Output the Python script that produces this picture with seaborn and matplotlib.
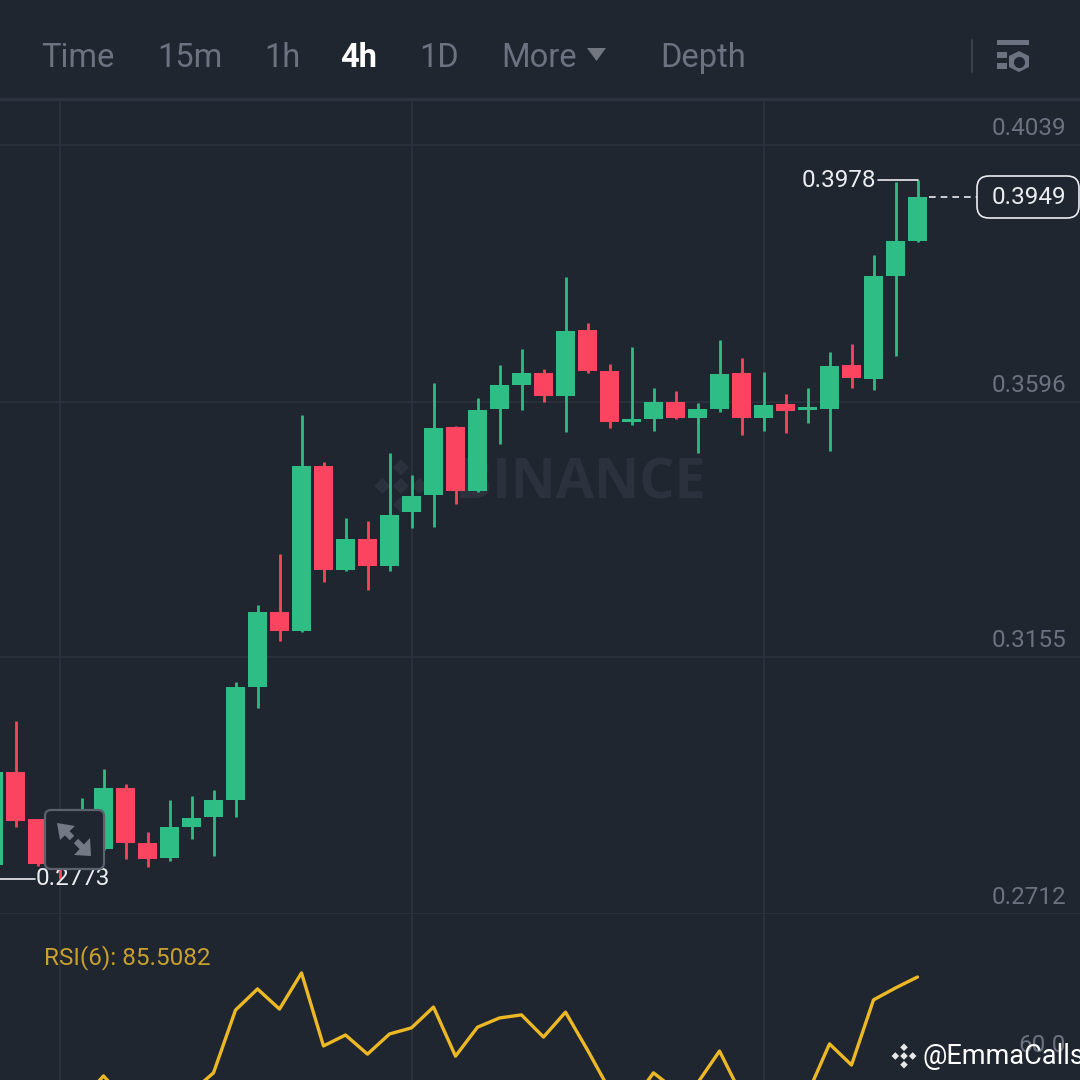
import matplotlib
matplotlib.use("Agg")
import matplotlib.pyplot as plt
from matplotlib.patches import FancyBboxPatch, Polygon, Rectangle
import numpy as np
import pandas as pd
import seaborn as sns

BG = "#1f2630"
GRID = "#2c333f"
GREEN = "#2ebd85"
RED = "#fb4560"
GOLD = "#ecb824"
MUTED = "#6b7280"
LIGHT = "#eaecef"

# candles, left to right (first one is cut by the left edge)
opens = [0.2797, 0.2957, 0.2876, 0.2866, 0.2824, 0.2824, 0.2929, 0.2835, 0.2809, 0.2862,
         0.2879, 0.2909, 0.3104, 0.3233, 0.3200, 0.3485, 0.3306, 0.3359, 0.3313, 0.3406,
         0.3435, 0.3552, 0.3442, 0.3583, 0.3625, 0.3646, 0.3606, 0.3720, 0.3649, 0.3561,
         0.3566, 0.3596, 0.3568, 0.3583, 0.3646, 0.3568, 0.3592, 0.3582, 0.3583, 0.3659,
         0.3635, 0.3813, 0.3873]
closes = [0.2957, 0.2873, 0.2798, 0.2791, 0.2866, 0.2929, 0.2835, 0.2807, 0.2862, 0.2878,
          0.2909, 0.3104, 0.3233, 0.3200, 0.3485, 0.3306, 0.3359, 0.3313, 0.3401, 0.3433,
          0.3551, 0.3442, 0.3582, 0.3625, 0.3646, 0.3606, 0.3718, 0.3649, 0.3561, 0.3566,
          0.3596, 0.3568, 0.3583, 0.3644, 0.3568, 0.3590, 0.3580, 0.3587, 0.3658, 0.3637,
          0.3813, 0.3873, 0.3949]
highs = [0.2965, 0.3045, 0.2876, 0.2883, 0.2912, 0.2962, 0.2936, 0.2854, 0.2909, 0.2916,
         0.2926, 0.3112, 0.3245, 0.3333, 0.3573, 0.3492, 0.3395, 0.3390, 0.3508, 0.3470,
         0.3628, 0.3554, 0.3602, 0.3659, 0.3687, 0.3653, 0.3811, 0.3732, 0.3661, 0.3690,
         0.3620, 0.3615, 0.3594, 0.3703, 0.3671, 0.3647, 0.3609, 0.3620, 0.3682, 0.3696,
         0.3849, 0.3975, 0.3978]
lows = [0.2790, 0.2862, 0.2795, 0.2773, 0.2814, 0.2822, 0.2807, 0.2793, 0.2803, 0.2841,
        0.2812, 0.2879, 0.3068, 0.3183, 0.3199, 0.3285, 0.3304, 0.3271, 0.3304, 0.3378,
        0.3380, 0.3420, 0.3440, 0.3523, 0.3582, 0.3596, 0.3544, 0.3646, 0.3551, 0.3556,
        0.3545, 0.3566, 0.3508, 0.3578, 0.3539, 0.3545, 0.3542, 0.3559, 0.3511, 0.3620,
        0.3616, 0.3675, 0.3871]

# RSI starts further left than the crop shows, first value is candle 4
rsi_start = 4
rsi_values = [49.4, 56.5, 49.4, 47.0, 47.0, 51.8, 57.4, 75.8, 82.0, 76.1, 86.7, 65.3, 68.5,
              62.9, 68.8, 70.6, 76.7, 62.3, 70.8, 73.5, 74.4, 67.9, 75.2, 64.1, 52.4, 48.5,
              57.4, 52.4, 54.4, 63.8, 50.9, 48.0, 49.4, 51.2, 65.9, 59.7, 78.8, 82.3, 85.5082]

price_ticks = [0.4039, 0.3596, 0.3155, 0.2712]
time_ticks = [3, 19, 35]
header_labels = ["Time", "15m", "1h", "4h", "1D", "More", "Depth"]
header_x = [41, 157, 264, 340, 419, 501, 660]

W = 1080


def frac_box(y0, y1):
    return [0, 1 - y1 / W, 1, (y1 - y0) / W]


def logo(ax, cx, cy, s, color, zorder=1):
    # four small diamonds around a hollow one, roughly the exchange logo
    for dx, dy in [(-1, 0), (1, 0), (0, -1), (0, 1), (0, 0)]:
        r = 0.27 * s
        px, py = cx + dx * 0.62 * s, cy + dy * 0.62 * s
        ax.add_patch(Polygon([(px - r, py), (px, py - r), (px + r, py), (px, py + r)],
                             closed=True, fc=color, ec="none", zorder=zorder))


sns.set_theme(style="dark")
plt.rcParams["font.family"] = ["Roboto", "DejaVu Sans"]

fig = plt.figure(figsize=(10.8, 10.8), dpi=100, facecolor=BG)

# pixel space layers, one under the candles and one over them
under = fig.add_axes([0, 0, 1, 1], zorder=0)
over = fig.add_axes([0, 0, 1, 1], zorder=5)
for a in (under, over):
    a.set_xlim(0, W)
    a.set_ylim(W, 0)
    a.axis("off")
under.set_facecolor(BG)
under.axis("on")
under.set_xticks([])
under.set_yticks([])
for s in under.spines.values():
    s.set_visible(False)

logo(under, 401, 486, 30, "#2b323d")
under.text(455, 484, "BINANCE", color="#2b323d", fontsize=40, fontweight="bold",
           family="Open Sans", va="center", ha="left")

# price panel
ax = fig.add_axes(frac_box(100, 914), zorder=2)
ax.patch.set_alpha(0)
candles = pd.DataFrame({"i": np.arange(len(opens)), "open": opens, "close": closes,
                        "high": highs, "low": lows})
candles["body_low"] = candles[["open", "close"]].min(axis=1)
candles["body"] = (candles["close"] - candles["open"]).abs()
candles["up"] = candles["close"] >= candles["open"]

for is_up, color in [(True, GREEN), (False, RED)]:
    part = candles[candles["up"] == is_up]
    ax.vlines(part["i"], part["low"], part["high"], color=color, lw=2.0, zorder=3)
    sns.barplot(data=part, x="i", y="body", native_scale=True, color=color, saturation=1,
                width=0.87, errorbar=None, bottom=part["body_low"].values, ax=ax,
                linewidth=0, zorder=4)

xlim = (6.5 / 22, 1086.5 / 22)
ax.set_xlim(*xlim)
ax.set_ylim(0.2712, 0.2712 + 814 * 0.00017256)
ax.set_xticks(time_ticks)
ax.set_yticks(price_ticks)
ax.set_xticklabels([])
ax.set_yticklabels([])
ax.set_xlabel("")
ax.set_ylabel("")
ax.tick_params(length=0)
ax.grid(True, color=GRID, lw=1.2, zorder=0)
ax.set_axisbelow(True)
for s in ax.spines.values():
    s.set_visible(False)

ytrans = ax.get_yaxis_transform()
for p in price_ticks:
    ax.annotate(f"{p:.4f}", xy=(1, p), xycoords=ytrans, xytext=(-10, 12), textcoords="offset points",
                ha="right", va="center", color=MUTED, fontsize=17.5)

last = len(opens) - 1
hi_i = int(np.argmax(highs))
lo_i = int(np.argmin(lows))
# high marker
ax.plot([hi_i - 40 / 22, hi_i], [highs[hi_i]] * 2, color=LIGHT, lw=1.2, zorder=5)
ax.annotate(f"{highs[hi_i]:.4f}", xy=(hi_i - 41 / 22, highs[hi_i]), xytext=(0, 0),
            textcoords="offset points", ha="right", va="center", color=LIGHT, fontsize=17.5, zorder=6)
# low marker
ax.plot([xlim[0], lo_i - 25 / 22], [lows[lo_i]] * 2, color=LIGHT, lw=1.2, zorder=5)
ax.annotate(f"{lows[lo_i]:.4f}", xy=(lo_i - 24 / 22, lows[lo_i]), xytext=(0, 0),
            textcoords="offset points", ha="left", va="center", color=LIGHT, fontsize=17.5, zorder=6,
            annotation_clip=False)
# last price line
ax.plot([last + 11 / 22, last + 60 / 22], [closes[last]] * 2, color=LIGHT, lw=1.2,
        dashes=(4, 3), zorder=5)

# rsi panel
rsi_ax = fig.add_axes(frac_box(914, 1080), zorder=2)
rsi_ax.patch.set_alpha(0)
rsi = pd.DataFrame({"i": np.arange(rsi_start, rsi_start + len(rsi_values)), "rsi": rsi_values})
sns.lineplot(data=rsi, x="i", y="rsi", color=GOLD, lw=2.4, ax=rsi_ax, zorder=3)
rsi_ax.set_xlim(*xlim)
rsi_ax.set_ylim(60 - 16 * 0.2932, 60 + 150 * 0.2932)
rsi_ax.set_xticks(time_ticks)
rsi_ax.set_yticks([])
rsi_ax.set_xticklabels([])
rsi_ax.set_xlabel("")
rsi_ax.set_ylabel("")
rsi_ax.tick_params(length=0)
rsi_ax.grid(True, axis="x", color=GRID, lw=1.2)
rsi_ax.set_axisbelow(True)
for s in rsi_ax.spines.values():
    s.set_visible(False)
rsi_ax.text(44, 0.0, "", alpha=0)

# header
over.plot([0, W], [99, 99], color=GRID, lw=2.4)
for label, x in zip(header_labels, header_x):
    active = label == "4h"
    over.text(x, 58, label, color="#ffffff" if active else MUTED, fontsize=23.5,
              fontweight="bold" if active else "normal", ha="left", va="center")
over.add_patch(Polygon([(587, 48), (606, 48), (596.5, 61)], closed=True, fc="#72777f", ec="none"))
over.plot([972, 972], [40, 72], color="#39404c", lw=1.5)
over.add_patch(Rectangle((997, 40), 32, 5, fc=MUTED, ec="none"))
over.add_patch(Rectangle((997, 52), 10, 6, fc=MUTED, ec="none"))
over.add_patch(Rectangle((997, 63), 10, 6, fc=MUTED, ec="none"))
over.add_patch(Polygon([(1019, 51), (1029, 56), (1029, 67), (1019, 72), (1009, 67), (1009, 56)],
                       closed=True, fc=MUTED, ec="none"))
over.plot([1019], [61.5], "o", ms=7, color=BG)

# expand button
over.add_patch(FancyBboxPatch((45, 810), 59, 59, boxstyle="round,pad=0,rounding_size=6",
                              fc=BG, ec="#5b626e", lw=1.6))
over.add_patch(Polygon([(57, 823), (75, 826), (60, 840)], closed=True, fc="#747a85", ec="none"))
over.add_patch(Polygon([(91, 856), (74, 855), (90, 838)], closed=True, fc="#747a85", ec="none"))
over.plot([65, 72], [831, 838], color="#747a85", lw=4.5, solid_capstyle="butt")
over.plot([76, 83], [841, 848], color="#747a85", lw=4.5, solid_capstyle="butt")

# last price tag
over.add_patch(FancyBboxPatch((977, 176), 102, 42, boxstyle="round,pad=0,rounding_size=12",
                              fc=BG, ec=LIGHT, lw=1.2))
over.text(1028.5, 198, f"{closes[last]:.4f}", color=LIGHT, fontsize=17.5, ha="center", va="center")

over.text(44, 958, f"RSI(6): {rsi_values[-1]:.4f}", color="#c9a02e", fontsize=17.5, ha="left", va="center")
over.text(1066, 1046, "60.0", color=MUTED, fontsize=17.5, ha="right", va="center")

# reposter stamp
logo(over, 904, 1056, 14, "#e6e8ea")
over.text(922, 1057, "@EmmaCalls", color="#ffffff", fontsize=19.5, ha="left", va="center")

fig.savefig("out.png", dpi=100, facecolor=BG)
